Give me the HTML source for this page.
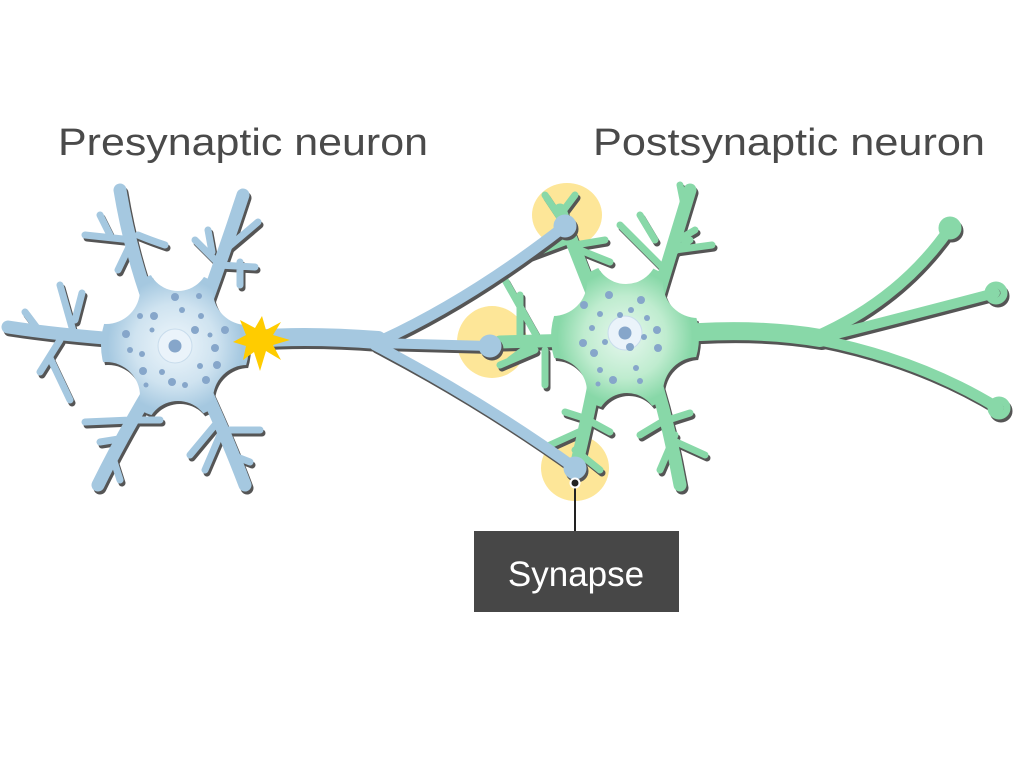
<!DOCTYPE html>
<html><head><meta charset="utf-8"><style>
html,body{margin:0;padding:0;background:#fff;}
svg{display:block;}
</style></head><body>
<svg width="1024" height="776" viewBox="0 0 1024 776" xmlns="http://www.w3.org/2000/svg">
<defs>
<radialGradient id="gb" gradientUnits="userSpaceOnUse" cx="175" cy="345" r="75"><stop offset="0" stop-color="#eef6fb"/><stop offset="0.55" stop-color="#cfe3f0"/><stop offset="0.9" stop-color="#a5c8e0"/></radialGradient>
<radialGradient id="gg" gradientUnits="userSpaceOnUse" cx="625" cy="337" r="75"><stop offset="0" stop-color="#e6f7ee"/><stop offset="0.55" stop-color="#bfeccf"/><stop offset="0.9" stop-color="#88d8a8"/></radialGradient>
<mask id="mpre" maskUnits="userSpaceOnUse" x="0" y="0" width="1024" height="776">
  <rect width="1024" height="776" fill="#fff"/>
  <g fill="#000">
  <circle cx="178" cy="260" r="31"/><circle cx="247" cy="291" r="34"/><circle cx="247" cy="399" r="34"/>
  <circle cx="178" cy="433" r="32"/><circle cx="106" cy="396" r="34"/><circle cx="106" cy="290" r="34"/>
  </g>
</mask>
<mask id="mpost" maskUnits="userSpaceOnUse" x="0" y="0" width="1024" height="776">
  <rect width="1024" height="776" fill="#fff"/>
  <g fill="#000">
  <circle cx="626" cy="252" r="32"/><circle cx="698" cy="283" r="35"/><circle cx="698" cy="392" r="35"/>
  <circle cx="627" cy="424" r="31"/><circle cx="553" cy="392" r="34"/><circle cx="553" cy="282" r="34"/>
  </g>
</mask>
<g id="pre" stroke-linecap="round" stroke-linejoin="round" fill="none">
  <path d="M240 340 Q300 334 378 340" stroke-width="18"/>
  <path d="M378 342 Q470 300 565 226" stroke-width="11"/>
  <path d="M378 343 L490 346" stroke-width="10"/>
  <path d="M375 345 Q480 400 575 468" stroke-width="11"/>
  <path d="M150 305 Q130 250 120 190" stroke-width="13"/>
  <path d="M132 240 L85 235 M130 245 L118 270 M138 235 Q150 240 165 245 M110 235 L100 215" stroke-width="7"/>
  <path d="M205 305 Q225 250 243 195" stroke-width="13"/>
  <path d="M225 250 L258 222 M218 265 L255 267 M215 260 L195 240 M240 262 L240 285 M212 252 L208 230" stroke-width="7"/>
  <path d="M130 340 Q60 335 8 327" stroke-width="13"/>
  <path d="M40 332 L25 312 M75 338 L60 285 M75 320 L82 293 M60 340 L40 372 M50 358 L70 400" stroke-width="7"/>
  <path d="M150 390 Q120 440 98 485" stroke-width="13"/>
  <path d="M132 420 L85 422 M130 420 L160 420 M112 455 L120 480 M125 438 L100 442" stroke-width="7"/>
  <path d="M205 390 Q228 440 245 485" stroke-width="13"/>
  <path d="M215 425 L190 455 M222 430 L260 430 M232 455 L250 462 M220 435 L205 470" stroke-width="7"/>
  <circle cx="565" cy="226" r="7" stroke-width="9"/>
  <circle cx="490" cy="346" r="7" stroke-width="9"/>
  <circle cx="575" cy="468" r="7" stroke-width="9"/>
</g>
<g id="post" stroke-linecap="round" stroke-linejoin="round" fill="none">
  <path d="M660 335 Q750 326 820 338" stroke-width="18"/>
  <path d="M815 337 Q900 300 950 228" stroke-width="11"/>
  <path d="M820 338 Q900 318 995 293" stroke-width="10"/>
  <path d="M820 340 Q920 360 998 408" stroke-width="11"/>
  <path d="M595 300 Q575 250 560 210" stroke-width="13"/>
  <path d="M570 240 L530 255 M575 245 L605 240 M565 225 L545 195 M560 215 L575 195 M580 250 L610 262" stroke-width="7"/>
  <path d="M655 305 Q670 255 690 190" stroke-width="13"/>
  <path d="M665 270 L620 225 M670 255 L690 240 M675 250 L712 245 M678 240 L695 230 M685 210 L680 185 M655 240 L640 215" stroke-width="7"/>
  <path d="M580 340 L500 342" stroke-width="13"/>
  <path d="M540 342 L505 280 M520 342 L520 295 M530 345 L510 360 M545 350 L545 385 M535 350 L500 365" stroke-width="7"/>
  <path d="M595 380 Q585 430 575 470" stroke-width="13"/>
  <path d="M590 420 L565 412 M583 430 L550 445 M580 440 L580 460 M588 420 L610 432 M575 450 L600 470" stroke-width="7"/>
  <path d="M655 380 Q670 430 680 485" stroke-width="13"/>
  <path d="M665 420 L640 435 M668 420 L690 413 M672 440 L705 455 M675 435 L660 470" stroke-width="7"/>
  <circle cx="950" cy="228" r="8" stroke-width="7"/>
  <circle cx="996" cy="293" r="8" stroke-width="7"/>
  <circle cx="999" cy="408" r="8" stroke-width="7"/>
</g>
</defs>
<text x="58" y="155" font-family="Liberation Sans, sans-serif" font-size="38" fill="#4a4a4a" textLength="370" lengthAdjust="spacingAndGlyphs">Presynaptic neuron</text>
<text x="593" y="155" font-family="Liberation Sans, sans-serif" font-size="38" fill="#4a4a4a" textLength="392" lengthAdjust="spacingAndGlyphs">Postsynaptic neuron</text>

<ellipse cx="567" cy="215" rx="35" ry="32" fill="#fde698"/>
<ellipse cx="492" cy="342" rx="35" ry="36" fill="#fde698"/>
<ellipse cx="575" cy="468" rx="34" ry="33" fill="#fde698"/>

<g transform="translate(2,3)"><use href="#post" stroke="#555"/><circle cx="625" cy="337" r="74" fill="#555" mask="url(#mpost)"/></g>
<use href="#post" stroke="#88d8a8"/>
<circle cx="625" cy="337" r="74" fill="url(#gg)" mask="url(#mpost)"/>

<g transform="translate(2,3)"><use href="#pre" stroke="#555"/><circle cx="175" cy="345" r="74" fill="#555" mask="url(#mpre)"/></g>
<use href="#pre" stroke="#a5c8e0"/>
<circle cx="175" cy="345" r="74" fill="url(#gb)" mask="url(#mpre)"/>

<g fill="#86a6ca">
<circle cx="175" cy="346" r="17" fill="#eaf3fa" stroke="#c8dcec"/>
<circle cx="175" cy="346" r="6.5"/>
<circle cx="126" cy="334" r="4"/><circle cx="140" cy="316" r="3"/><circle cx="154" cy="316" r="4"/><circle cx="175" cy="297" r="4"/><circle cx="199" cy="296" r="3"/><circle cx="182" cy="310" r="3"/><circle cx="201" cy="316" r="3"/><circle cx="225" cy="330" r="4"/><circle cx="195" cy="330" r="4"/><circle cx="215" cy="348" r="4"/><circle cx="217" cy="365" r="4"/><circle cx="200" cy="366" r="3"/><circle cx="206" cy="380" r="4"/><circle cx="172" cy="382" r="4"/><circle cx="143" cy="371" r="4"/><circle cx="130" cy="350" r="3"/><circle cx="142" cy="354" r="3"/><circle cx="162" cy="372" r="3"/><circle cx="185" cy="385" r="3"/><circle cx="146" cy="385" r="2.5"/><circle cx="152" cy="330" r="2.5"/><circle cx="210" cy="335" r="2.5"/>
<circle cx="625" cy="333" r="17" fill="#eaf3fa" stroke="#c8dcec"/>
<circle cx="625" cy="333" r="6.5"/>
<circle cx="583" cy="343" r="4"/><circle cx="584" cy="305" r="4"/><circle cx="609" cy="295" r="4"/><circle cx="641" cy="300" r="4"/><circle cx="631" cy="310" r="3"/><circle cx="657" cy="330" r="4"/><circle cx="658" cy="348" r="4"/><circle cx="630" cy="347" r="4"/><circle cx="594" cy="353" r="4"/><circle cx="613" cy="380" r="4"/><circle cx="600" cy="370" r="3"/><circle cx="636" cy="368" r="3"/><circle cx="647" cy="318" r="3"/><circle cx="600" cy="314" r="3"/><circle cx="592" cy="328" r="3"/><circle cx="605" cy="342" r="3"/><circle cx="644" cy="337" r="3"/><circle cx="620" cy="315" r="3"/><circle cx="640" cy="381" r="3"/><circle cx="598" cy="384" r="2.5"/>
</g>

<polygon fill="#ffcc00" points="262,316 266,330 281,322 273,335 290,340 273,345 281,360 266,351 260,371 254,352 243,360 246,346 233,342 246,335 240,320 255,328" />

<line x1="575" y1="483" x2="575" y2="531" stroke="#222" stroke-width="2"/>
<circle cx="575" cy="483" r="4.5" fill="#222" stroke="#fff" stroke-width="2"/>
<rect x="474" y="531" width="205" height="81" fill="#474747"/>
<text x="576" y="586" text-anchor="middle" font-family="Liberation Sans, sans-serif" font-size="35" fill="#fff">Synapse</text>
</svg>
</body></html>
